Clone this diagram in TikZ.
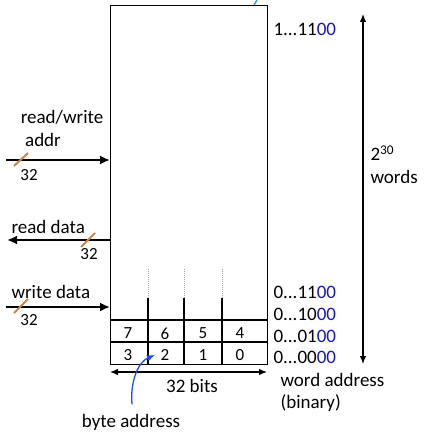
\documentclass[tikz,border=0pt]{standalone}
\usepackage{fontspec}
\setmainfont{Carlito}
\usepackage{xcolor}
\usepackage{tikz}
\usetikzlibrary{arrows.meta, positioning}
\definecolor{addrblue}{RGB}{25,25,170}
\definecolor{slashorange}{RGB}{205,135,75}
\definecolor{pointblue}{RGB}{35,75,230}
\definecolor{topblue}{RGB}{70,150,230}
\newcommand{\waddr}[2]{#1{\color{addrblue}#2}}

\begin{document}
\begin{tikzpicture}[x=1pt, y=-1pt, font=\fontsize{19}{21}\selectfont,
    bus/.style={line width=2.8pt, -{Latex[length=10pt, width=9pt]}},
    span/.style={line width=1.2pt, {Latex[length=8pt, width=6.5pt]}-{Latex[length=8pt, width=6.5pt]}},
    wslash/.style={slashorange, line width=2pt},
    small/.style={font=\fontsize{17}{19}\selectfont}]
  \useasboundingbox (0,0) rectangle (423,435);
  % Memory array
  \node[draw, line width=1.4pt, minimum width=157pt, minimum height=359pt, inner sep=0pt, anchor=north west] (mem) at (110,5) {};
  \draw[topblue, line width=1.5pt] (254,5) -- (257,0);
  \draw[line width=1.2pt] (110,320) -- (267,320);
  \draw[line width=1.2pt] (110,342) -- (267,342);
  \foreach \x in {148, 184, 222} {
    \draw[line width=1.2pt] (\x,298) -- (\x,364);
    \draw[gray!70, line width=1pt, densely dotted] (\x,269) -- (\x,298);
  }
  \foreach \x/\n in {128/7, 165/6, 203/5, 240/4}
    \node[small] (c\n) at (\x,333.5) {\n};
  \foreach \x/\n in {128/3, 165/2, 203/1, 240/0}
    \node[small] (c\n) at (\x,355) {\n};
  % Word addresses
  \node[anchor=west] (a3) at (270,29) {\waddr{1...11}{00}};
  \node[anchor=west] (a2) at (270,292) {\waddr{0...11}{00}};
  \node[anchor=west] (a1) at (270,314) {\waddr{0...10}{00}};
  \node[anchor=west] (a0) at (270,336) {\waddr{0...01}{00}};
  \node[anchor=west] (a00) at (270,357) {\waddr{0...00}{00}};
  \node[anchor=west] (wa) at (277,380) {word address};
  \node[anchor=west] (bin) at (277,403) {(binary)};
  % Number of words
  \coordinate (wtop) at (363,14);
  \coordinate (wbot) at (363,364);
  \draw[span] (wbot) -- (wtop);
  \node[anchor=west] (pow) at (367,153) {2\textsuperscript{30}};
  \node[anchor=west] (words) at (367,177) {words};
  % Word width
  \coordinate (bl) at (110,372);
  \coordinate (br) at (267,372);
  \draw[span] (bl) -- (br);
  \node (bits) at (192,386) {32 bits};
  % Byte address
  \node (byte) at (131,422) {byte address};
  \draw[pointblue, line width=1.3pt, -{Latex[length=8pt, width=6.5pt]}] (byte.north) ++(1,-6) .. controls (130,382) and (138,362) .. (155,355);
  % Address input
  \coordinate (rwin) at (6,160);
  \draw[bus] (rwin) -- (rwin -| mem.west);
  \node (rwl) at (62,117) {read/write};
  \node (addrl) at (43,140) {addr};
  \draw[wslash] (14,166) -- (28,153);
  \node[small] (n1) at (29,175) {32};
  % Read data output
  \coordinate (rdout) at (7,240);
  \draw[bus] (rdout -| mem.west) -- (rdout);
  \node[anchor=west] (rdl) at (8,227) {read data};
  \draw[wslash] (81,247) -- (95,233);
  \node[small] (n2) at (89,254) {32};
  % Write data input
  \coordinate (wdin) at (6,307);
  \draw[bus] (wdin) -- (wdin -| mem.west);
  \node[anchor=west] (wdl) at (8,292) {write data};
  \draw[wslash] (14,313) -- (28,299);
  \node[small] (n3) at (29,320) {32};
\end{tikzpicture}
\end{document}
